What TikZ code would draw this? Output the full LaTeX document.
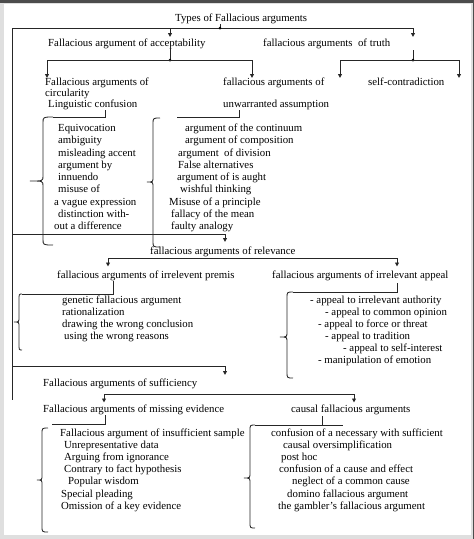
\documentclass[tikz,border=0pt]{standalone}
\usepackage{fontspec}
\setmainfont{Liberation Serif}
\usetikzlibrary{arrows.meta}
\newcommand\mybrace[6]{% xt, yt, xb, xc, ym, yb
  \draw[ln] (#1,#2) .. controls (#3,#2) .. (#3,#2+6) -- (#3,#5-5)
    .. controls (#3,#5) .. (#4,#5) .. controls (#3,#5) .. (#3,#5+5)
    -- (#3,#6-6) .. controls (#3,#6) .. (#1,#6);}
\begin{document}
\begin{tikzpicture}[x=1pt,y=-1pt,
  t/.style={font=\fontsize{10.8}{12}\selectfont, inner sep=0pt, anchor=base west},
  ln/.style={line width=0.85pt, black!85},
  arr/.style={ln, -{Triangle[length=4pt,width=3.8pt]}},
  dot/.style={circle, fill=black, inner sep=0pt, minimum size=3pt}]
% frame
\useasboundingbox (0,0) rectangle (474,539);
\fill[gray!25] (0,0) rectangle (474,539);
\fill[white] (4,3.5) rectangle (471,535);
\fill[gray!60!black] (0,0) rectangle (474,3);
\draw[gray!60!black, line width=0.6pt] (473,3) -- (473,539);

% ---------- texts ----------
\node[t] (title) at (175,21.5) {Types of Fallacious arguments};
\node[t] (acc) at (48,46.5) {Fallacious argument of acceptability};
\node[t] (truth) at (263,46.5) {fallacious arguments\ \ of truth};
\node[t] (circ1) at (45,85.5) {Fallacious arguments of};
\node[t] (circ2) at (45,96.5) {circularity};
\node[t] (ling) at (48,107.5) {Linguistic confusion};
\node[t] (unw1) at (223,85.5) {fallacious arguments of};
\node[t] (unw2) at (223,107.5) {unwarranted assumption};
\node[t] (self) at (368,85.5) {self-contradiction};

\node[t] (l1) at (58,131.5) {Equivocation};
\node[t] (l2) at (58,143.75) {ambiguity};
\node[t] (l3) at (58,156) {misleading accent};
\node[t] (l4) at (58,168.25) {argument by};
\node[t] (l5) at (58,180.5) {innuendo};
\node[t] (l6) at (58,192.75) {misuse of};
\node[t] (l7) at (54,205) {a vague expression};
\node[t] (l8) at (58,217.25) {distinction with-};
\node[t] (l9) at (54,229.5) {out a difference};

\node[t] (u1) at (185,131.5) {argument of the continuum};
\node[t] (u2) at (185,143.75) {argument of composition};
\node[t] (u3) at (178,156) {argument\ \ of division};
\node[t] (u4) at (178,168.25) {False alternatives};
\node[t] (u5) at (177,180.5) {argument of is aught};
\node[t] (u6) at (180,192.75) {wishful thinking};
\node[t] (u7) at (169,205) {Misuse of a principle};
\node[t] (u8) at (171,217.25) {fallacy of the mean};
\node[t] (u9) at (171,229.5) {faulty analogy};

\node[t] (rel) at (150,254.5) {fallacious arguments of relevance};
\node[t] (prem) at (57,278.5) {fallacious arguments of irrelevent premis};
\node[t] (appeal) at (272,278.5) {fallacious arguments of irrelevant appeal};

\node[t] (p1) at (62,303.5) {genetic fallacious argument};
\node[t] (p2) at (62,315.5) {rationalization};
\node[t] (p3) at (62,327.5) {drawing the wrong conclusion};
\node[t] (p4) at (64,339.5) {using the wrong reasons};

\node[t] (a1) at (310,303.5) {- appeal to irrelevant authority};
\node[t] (a2) at (325,315.5) {- appeal to common opinion};
\node[t] (a3) at (318,327.5) {- appeal to force or threat};
\node[t] (a4) at (325,339.5) {- appeal to tradition};
\node[t] (a5) at (343,351.5) {- appeal to self-interest};
\node[t] (a6) at (318,363.5) {- manipulation of emotion};

\node[t] (suff) at (43,386.5) {Fallacious arguments of sufficiency};
\node[t] (miss) at (43,412.5) {Fallacious arguments of missing evidence};
\node[t] (causal) at (291,412.5) {causal fallacious arguments};

\node[t] (m1) at (60,436.5) {Fallacious argument of insufficient sample};
\node[t] (m2) at (64,448.6) {Unrepresentative data};
\node[t] (m3) at (64,460.7) {Arguing from ignorance};
\node[t] (m4) at (64,472.8) {Contrary to fact hypothesis};
\node[t] (m5) at (68,484.9) {Popular wisdom};
\node[t] (m6) at (61,497) {Special pleading};
\node[t] (m7) at (61,509.1) {Omission of a key evidence};

\node[t] (c1) at (271,436.5) {confusion of a necessary with sufficient};
\node[t] (c2) at (283,448.6) {causal oversimplification};
\node[t] (c3) at (281,460.7) {post hoc};
\node[t] (c4) at (279,472.8) {confusion of a cause and effect};
\node[t] (c5) at (292,484.9) {neglect of a common cause};
\node[t] (c6) at (287,497) {domino fallacious argument};
\node[t] (c7) at (278,509.1) {the gambler's fallacious argument};

% ---------- connectors ----------
% top level
\coordinate (j0) at (220,28);
\coordinate (L0) at (12,28);
\coordinate (R0) at (413,28);
\coordinate (A0) at (170,28);
\coordinate (Lend) at (12,400);
\draw[ln] (j0 |- title.south) -- (j0);
\draw[ln] (L0) -- (R0);
\draw[ln] (L0) -- (Lend);
\node[dot] at (j0) {};
\draw[arr] (A0) -- (170,37);
\draw[arr] (R0) -- (413,37);

% acceptability
\coordinate (ja) at (170,60);
\draw[ln] (170,47) -- (ja);
\node[dot] at (ja) {};
\coordinate (jaL) at (47,60);
\coordinate (jaR) at (252,60);
\draw[ln] (jaL) -- (jaR);
\draw[arr] (jaL) -- (47,78);
\draw[arr] (jaR) -- (252,78);

% truth
\coordinate (jt) at (413,60);
\draw[ln] (413,50) -- (jt);
\node[dot] at (jt) {};
\coordinate (jtL) at (340,60);
\coordinate (jtR) at (459,60);
\draw[ln] (jtL) -- (jtR);
\draw[arr] (jtL) -- (340,78);
\draw[arr] (jtR) -- (459,78);

% linguistic confusion brace
\draw[ln] (105,110) -- (105,117) -- (53,117);
\mybrace{53}{117}{43}{30}{181}{245}
% unwarranted assumption brace
\draw[ln] (239,110) -- (239,117) -- (177,117);
\mybrace{160}{118}{153}{147}{182}{247}

% relevance
\coordinate (r0) at (12,234);
\coordinate (r1) at (225,234);
\draw[arr] (r0) -- (r1) -- (225,242);
\coordinate (rL) at (108,258);
\coordinate (rR) at (397,258);
\draw[ln] (rL) -- (rR);
\draw[arr] (rL) -- (108,266.5);
\draw[arr] (rR) -- (397,266.5);

% premis brace
\draw[ln] (113,281) -- (113,294) -- (22,294);
\mybrace{22}{294}{19}{14}{322}{350}
% appeal brace
\draw[ln] (397,283) -- (397,292) -- (293,292);
\mybrace{293}{292}{287}{280}{337}{378}

% sufficiency
\coordinate (s0) at (12,366);
\coordinate (s1) at (225,366);
\draw[arr] (s0) -- (s1) -- (225,375);
\coordinate (sL) at (104,394);
\coordinate (sR) at (354,394);
\draw[ln] (sL) -- (sR);
\draw[arr] (sL) -- (104,402.5);
\draw[arr] (sR) -- (354,402.5);

% missing evidence brace
\draw[ln] (105,415) -- (105,424) -- (52,424);
\mybrace{48}{428}{42}{37}{480}{532}
% causal brace
\draw[ln] (322,416) -- (322,425) -- (343,425);
\draw[ln] (322,425) -- (255,425);
\mybrace{255}{425}{250}{244}{478}{528}
\end{tikzpicture}
\end{document}
